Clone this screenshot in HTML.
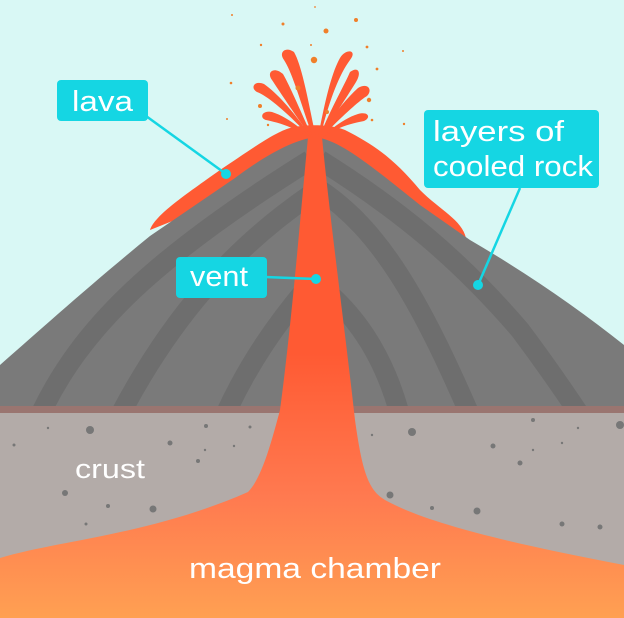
<!DOCTYPE html>
<html><head><meta charset="utf-8"><style>
html,body{margin:0;padding:0;background:#d9f8f5}
svg{display:block}
text{font-family:"Liberation Sans",sans-serif;fill:#fff}
</style></head><body>
<svg width="624" height="618" viewBox="0 0 624 618" xmlns="http://www.w3.org/2000/svg">
<defs>
<linearGradient id="mg" x1="0" y1="0" x2="0" y2="1">
<stop offset="0" stop-color="#ff5a33"/><stop offset="0.45" stop-color="#ff5a33"/><stop offset="0.75" stop-color="#ff7a50"/><stop offset="1" stop-color="#ffa052"/>
</linearGradient>
<clipPath id="mt"><path d="M0,365 C40,330 90,285 150,236 L235,178 C270,152 295,140 315,137 C340,140 370,165 420,205 L470,240 C530,275 580,310 624,345 L624,410 L0,410 Z"/></clipPath>
</defs>
<rect width="624" height="618" fill="#d9f8f5"/>
<!-- lava top -->
<path d="M150,230 C155,215 185,195 220,170 C250,150 275,132 290,128 C305,124 330,124 345,130 C375,145 395,160 420,190 C440,210 462,220 466,238 L430,220 L315,150 L200,210 Z" fill="#ff5a33"/>
<!-- mountain -->
<path d="M0,365 C40,330 90,285 150,236 L235,178 C270,152 295,140 315,137 C340,140 370,165 420,205 L470,240 C530,275 580,310 624,345 L624,410 L0,410 Z" fill="#7a7a7a"/>
<g clip-path="url(#mt)" fill="none" stroke="#6e6e6e" stroke-width="20">
<path d="M40,415 C80,330 150,260 310,160"/>
<path d="M120,415 C170,320 230,250 310,195"/>
<path d="M225,415 C250,360 280,320 305,290"/>
<path d="M320,160 C400,210 460,260 520,330 C550,370 570,400 580,415"/>
<path d="M320,190 C380,230 420,300 470,415"/>
<path d="M325,290 C360,320 385,360 400,415"/>
</g>
<rect x="0" y="406" width="624" height="8" fill="#9a7570"/>
<rect x="0" y="413" width="624" height="205" fill="#b3aba8"/>
<g fill="#777">
<circle cx="90" cy="430" r="4"/><circle cx="206" cy="426" r="2"/><circle cx="250" cy="427" r="1.5"/><circle cx="170" cy="443" r="2.5"/><circle cx="14" cy="445" r="1.5"/><circle cx="48" cy="428" r="1.2"/><circle cx="198" cy="461" r="2"/><circle cx="205" cy="450" r="1.2"/><circle cx="65" cy="493" r="3"/><circle cx="108" cy="506" r="2"/><circle cx="153" cy="509" r="3.5"/><circle cx="86" cy="524" r="1.5"/><circle cx="234" cy="446" r="1.2"/>
<circle cx="412" cy="432" r="4"/><circle cx="372" cy="435" r="1.2"/><circle cx="533" cy="420" r="2"/><circle cx="578" cy="428" r="1.2"/><circle cx="620" cy="425" r="4"/><circle cx="493" cy="446" r="2.5"/><circle cx="533" cy="450" r="1.2"/><circle cx="562" cy="443" r="1.2"/><circle cx="520" cy="463" r="2.5"/><circle cx="390" cy="495" r="3.5"/><circle cx="432" cy="508" r="2"/><circle cx="477" cy="511" r="3.5"/><circle cx="562" cy="524" r="2.5"/><circle cx="600" cy="527" r="2.5"/>
</g>
<path d="M308,137 L322,137 C330,220 345,330 355,420 C362,470 368,490 385,500 C430,525 520,545 624,565 L624,618 L0,618 L0,558 C60,540 150,535 248,492 C262,478 272,440 280,410 C292,320 300,220 308,137 Z" fill="url(#mg)"/>
<g fill="#ff5a33">
<path d="M313,138 C300,100 292,72 284,60 C278,52 286,46 294,52 C302,66 308,100 316,138 Z"/>
<path d="M318,138 C325,100 332,72 340,58 C346,48 358,50 350,60 C338,76 328,105 320,138 Z"/>
<path d="M312,138 C295,115 280,92 272,80 C266,72 274,66 283,74 C292,90 302,115 313,138Z"/>
<path d="M320,138 C335,115 350,92 356,82 C362,72 358,66 350,72 C344,86 330,110 319,138Z"/>
<path d="M311,138 C290,115 268,96 257,92 C250,88 254,80 264,84 C280,95 298,118 312,138Z"/>
<path d="M321,138 C340,118 360,100 367,96 C373,90 368,82 358,88 C345,100 330,118 320,138Z"/>
<path d="M310,138 C290,125 275,122 266,120 C259,118 262,110 272,112 C285,116 300,127 311,138Z"/>
<path d="M322,138 C340,125 355,123 364,121 C371,118 369,111 358,114 C345,118 332,128 321,138Z"/>
</g>
<g fill="#f07f2a">
<circle cx="314" cy="60" r="3.2"/><circle cx="326" cy="31" r="2.5"/><circle cx="356" cy="20" r="2"/><circle cx="283" cy="24" r="1.5"/><circle cx="261" cy="45" r="1.2"/><circle cx="232" cy="15" r="1"/><circle cx="315" cy="7" r="0.9"/><circle cx="298" cy="88" r="2.5"/><circle cx="327" cy="112" r="2"/><circle cx="369" cy="100" r="2.2"/><circle cx="372" cy="120" r="1.3"/><circle cx="377" cy="69" r="1.4"/><circle cx="367" cy="47" r="1.4"/><circle cx="403" cy="51" r="1"/><circle cx="404" cy="124" r="1.2"/><circle cx="231" cy="83" r="1.3"/><circle cx="260" cy="106" r="2"/><circle cx="227" cy="119" r="1"/><circle cx="268" cy="125" r="1.2"/><circle cx="311" cy="45" r="1"/>
</g>
<g stroke="#15d6e3" stroke-width="2.5" fill="none">
<line x1="146" y1="116" x2="226" y2="174"/>
<line x1="520" y1="188" x2="478" y2="285"/>
<line x1="265" y1="277" x2="316" y2="279"/>
</g>
<g fill="#15d6e3">
<circle cx="226" cy="174" r="5"/><circle cx="478" cy="285" r="5"/><circle cx="316" cy="279" r="5"/>
<rect x="57" y="80" width="91" height="41" rx="4"/>
<rect x="424" y="110" width="175" height="78" rx="4"/>
<rect x="176" y="257" width="91" height="41" rx="4"/>
</g>
<text x="72" y="111" font-size="29" textLength="61" lengthAdjust="spacingAndGlyphs">lava</text>
<text x="433" y="141" font-size="29" textLength="131" lengthAdjust="spacingAndGlyphs">layers of</text>
<text x="433" y="176" font-size="29" textLength="160" lengthAdjust="spacingAndGlyphs">cooled rock</text>
<text x="190" y="286" font-size="29" textLength="58" lengthAdjust="spacingAndGlyphs">vent</text>
<text x="75" y="478" font-size="27" textLength="70" lengthAdjust="spacingAndGlyphs">crust</text>
<text x="189" y="578" font-size="29" textLength="252" lengthAdjust="spacingAndGlyphs">magma chamber</text>
</svg>
</body></html>
